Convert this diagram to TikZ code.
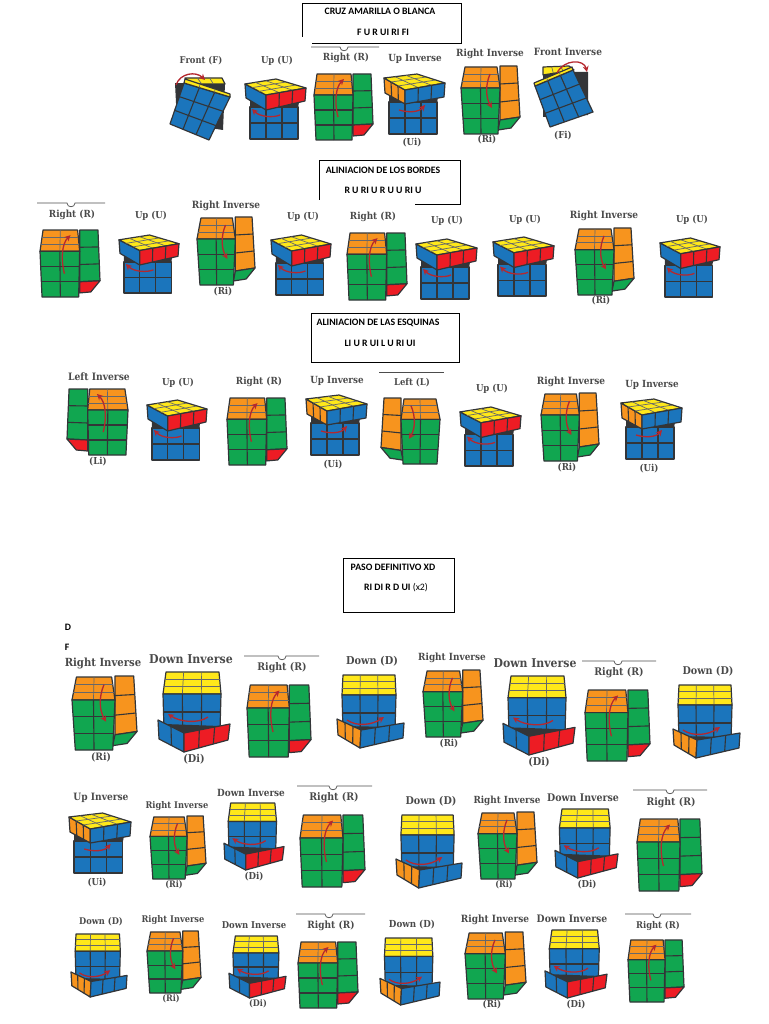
\documentclass[tikz,border=0pt]{standalone}
\usepackage{fontspec}
\usepackage{xcolor}
\usepackage{tikz}
\usetikzlibrary{calc,arrows.meta}
\newfontfamily\tagfont[FakeStretch=0.9]{DejaVu Serif}
\newfontfamily\boxfont{Carlito}
\definecolor{cyellow}{HTML}{FFE81A}
\definecolor{cblue}{HTML}{1B75BC}
\definecolor{cgreen}{HTML}{11A650}
\definecolor{corange}{HTML}{F7941E}
\definecolor{cred}{HTML}{ED1C24}
\definecolor{cdark}{HTML}{333538}
\definecolor{ctwist}{HTML}{B5282E}
\definecolor{ctag}{HTML}{4A4A4A}

% one face of the cube: colour, four corners, columns, rows
\newcommand{\facegrid}[7]{
	\filldraw[facet, fill=#1] #2 -- #3 -- #4 -- #5 -- cycle;
	\foreach \i in {1,...,#6}{\ifnum\i<#6 \draw[cell] ($#2!\i/#6!#3$) -- ($#5!\i/#6!#4$);\fi}
	\foreach \j in {1,...,#7}{\ifnum\j<#7 \draw[cell] ($#2!\j/#7!#5$) -- ($#3!\j/#7!#4$);\fi}
}
% same, finer lines for the top faces
\newcommand{\topgrid}[7]{
	\begin{scope}[cell/.style = {draw=cdark!75, line width=0.7pt}]
		\facegrid{#1}{#2}{#3}{#4}{#5}{#6}{#7}
	\end{scope}
}
% size each pic was drawn at
\def\wrightturn{59}    \def\hrightturn{67}
\def\wrightinverse{59} \def\hrightinverse{68}
\def\wupturn{61}       \def\hupturn{61}
\def\wupinverse{61}    \def\hupinverse{61}
\def\wdownturn{67}     \def\hdownturn{73}
\def\wdowninverse{72}  \def\hdowninverse{80}
\def\wfrontturn{60}    \def\hfrontturn{63}
\def\wfrontinverse{60} \def\hfrontinverse{62}
\newcommand{\turn}[5]{\pic[xscale=#4/\csname w#1\endcsname, yscale=#5/\csname h#1\endcsname] at (#2,#3) {#1};}
\newcommand{\flipturn}[5]{\pic[xscale=-#4/\csname w#1\endcsname, yscale=#5/\csname h#1\endcsname] at (#2+#4,#3) {#1};}
\newcommand{\notchline}[4]{\draw[topline] (#1,#4) -- (#3-4,#4) .. controls (#3-4,#4+5) and (#3+4,#4+5) .. (#3+4,#4) -- (#2,#4);}

\tikzset{
	facet/.style = {draw=cdark, line width=1.2pt, line join=round},
	cell/.style = {draw=cdark, line width=1.1pt},
	twist/.style = {draw=ctwist, line width=1.3pt, -{Stealth[length=6pt, width=6pt]}},
	topline/.style = {draw=black!70, line width=0.7pt},
	tag/.style = {text=ctag, inner sep=0pt, font={\tagfont\bfseries\fontsize{#1}{#1}\selectfont}},
	boxline/.style = {draw=black, line width=0.9pt},
	boxtext/.style = {inner sep=0pt, font={\boxfont\bfseries\fontsize{9.8}{9.8}\selectfont}},
	rightturn/.pic = {
		\facegrid{cgreen}{(39,1)}{(57,1)}{(59,51)}{(39,52)}{1}{3}
		\facegrid{cred}{(39,52)}{(59,51)}{(50,62)}{(39,63)}{1}{1}
		\topgrid{corange}{(3,1)}{(37,1)}{(39,22)}{(0,22)}{2}{3}
		\facegrid{cgreen}{(0,22)}{(39,22)}{(38,67)}{(2,67)}{2}{3}
		\draw[twist] (24,44) .. controls (20,28) and (22,14) .. (30,6);
	},
	rightinverse/.pic = {
		\facegrid{corange}{(39,0)}{(56,0)}{(59,51)}{(39,54)}{1}{3}
		\facegrid{cgreen}{(39,54)}{(59,51)}{(50,62)}{(37,64)}{1}{1}
		\topgrid{corange}{(4,1)}{(36,1)}{(39,22)}{(0,22)}{2}{3}
		\facegrid{cgreen}{(0,22)}{(39,22)}{(37,68)}{(3,68)}{2}{3}
		\draw[twist] (29,8) .. controls (24,20) and (25,32) .. (31,42);
	},
	upturn/.pic = {
		\fill[cdark] (5,20) -- (21,30) -- (54,23) -- (53,29) -- (5,29) -- cycle;
		\facegrid{cblue}{(5,28)}{(53,28)}{(53,60)}{(5,60)}{3}{2}
		\facegrid{cblue}{(0,5)}{(21,16)}{(21,31)}{(1,19)}{1}{1}
		\topgrid{cyellow}{(0,5)}{(31,0)}{(61,9)}{(21,16)}{3}{3}
		\facegrid{cred}{(21,16)}{(61,9)}{(60,22)}{(21,31)}{3}{1}
		\draw[twist] (35,36) .. controls (28,39) and (15,38) .. (7,30);
	},
	upinverse/.pic = {
		\fill[cdark] (5,20) -- (21,30) -- (54,23) -- (53,29) -- (5,29) -- cycle;
		\facegrid{cblue}{(5,28)}{(53,28)}{(53,60)}{(5,60)}{3}{2}
		\facegrid{corange}{(0,4)}{(21,16)}{(21,30)}{(1,19)}{3}{1}
		\topgrid{cyellow}{(0,4)}{(33,0)}{(61,9)}{(21,16)}{3}{3}
		\facegrid{cblue}{(21,16)}{(61,9)}{(60,23)}{(21,30)}{3}{1}
		\draw[twist] (15,36) .. controls (25,39) and (35,38) .. (41,31);
	},
	downturn/.pic = {
		\topgrid{cyellow}{(6,0)}{(58,0)}{(59,20)}{(5,20)}{3}{3}
		\facegrid{cblue}{(5,20)}{(59,20)}{(58,56)}{(6,56)}{3}{2}
		\fill[cdark] (0,44) -- (6,47) -- (6,51) -- (58,52) -- (67,48) -- (24,55) -- cycle;
		\facegrid{corange}{(0,44)}{(24,55)}{(23,73)}{(1,60)}{3}{1}
		\facegrid{cblue}{(24,55)}{(67,48)}{(66,63)}{(23,73)}{3}{1}
		\draw[twist] (10,45) .. controls (20,52) and (35,50) .. (47,42);
	},
	downinverse/.pic = {
		\topgrid{cyellow}{(8,0)}{(61,0)}{(63,22)}{(5,22)}{3}{3}
		\facegrid{cblue}{(5,22)}{(63,22)}{(62,58)}{(6,58)}{3}{2}
		\fill[cdark] (0,48) -- (7,52) -- (62,54) -- (72,52) -- (26,61) -- cycle;
		\facegrid{cblue}{(0,48)}{(26,61)}{(26,80)}{(1,67)}{2}{1}
		\facegrid{cred}{(26,61)}{(72,52)}{(70,68)}{(26,80)}{3}{1}
		\draw[twist] (50,45) .. controls (40,52) and (22,50) .. (10,42);
	},
	frontturn/.pic = {
		\fill[cdark] (5,6) -- (55,7) -- (53,53) -- (7,46) -- cycle;
		\topgrid{cyellow}{(15,1)}{(52,1)}{(55,7)}{(20,7)}{3}{1}
		\facegrid{cblue}{(14,6)}{(60,20)}{(39,63)}{(0,47)}{3}{3}
		\topgrid{cyellow}{(15,2)}{(60,17)}{(60,20)}{(14,6)}{3}{1}
		\draw[twist] (6,8) .. controls (10,-4) and (26,-6) .. (35,3);
	},
	frontinverse/.pic = {
		\fill[cdark] (9,7) -- (54,7) -- (54,50) -- (9,52) -- cycle;
		\topgrid{cyellow}{(9,2)}{(35,1)}{(40,5)}{(9,10)}{3}{1}
		\facegrid{cblue}{(1,21)}{(39,5)}{(59,47)}{(16,62)}{3}{3}
		\topgrid{cyellow}{(0,18)}{(38,2)}{(39,5)}{(1,21)}{3}{1}
		\draw[twist] (23,8) .. controls (30,-6) and (50,-6) .. (53,7);
	},
}

\begin{document}
\begin{tikzpicture}[x=1pt, y=-1pt]
	\useasboundingbox (0,0) rectangle (768,1024);
	% boxes
	\draw[boxline] (302,37) -- (302,3) -- (461,3) -- (461,43) -- (312,43);
	\draw[boxline] (319,200) -- (319,160) -- (460,160) -- (460,204) -- (415,204);
	\draw[boxline] (311,313) rectangle (459,362);
	\draw[boxline] (343,558) rectangle (454,612);
	\node [boxtext] (b0) at (380,11) {CRUZ AMARILLA O BLANCA};
	\node [boxtext] (b1) at (383,32) {F U R UI RI FI};
	\node [boxtext] (b2) at (383,170) {ALINIACION DE LOS BORDES};
	\node [boxtext] (b3) at (383,190) {R U RI U R U U RI U};
	\node [boxtext] (b4) at (378,323) {ALINIACION DE LAS ESQUINAS};
	\node [boxtext] (b5) at (380,343) {LI U R UI L U RI UI};
	\node [boxtext] (b6) at (393,567) {PASO DEFINITIVO XD};
	\node [boxtext] (b7) at (396,588) {RI DI R D UI {\mdseries (x2)}};
	\node [boxtext] (b8) at (68,627) {D};
	\node [boxtext] (b9) at (67,647) {F};
	% first row
	\notchline{311}{379}{344}{47}
	\turn{frontturn}{170}{77}{60}{63}
	\turn{upturn}{245}{79}{61}{61}
	\turn{rightturn}{314}{73}{59}{67}
	\turn{upinverse}{384}{74}{61}{61}
	\turn{rightinverse}{461}{66}{59}{68}
	\turn{frontinverse}{534}{65}{60}{62}
	\node [tag=9.3] (a0) at (201,61) {Front (F)};
	\node [tag=9.5] (a1) at (277,61) {Up (U)};
	\node [tag=9.8] (a2) at (346,58) {Right (R)};
	\node [tag=9.8] (a3) at (415,59) {Up Inverse};
	\node [tag=9.9] (a4) at (490,54) {Right Inverse};
	\node [tag=10] (a5) at (568,52) {Front Inverse};
	\node [tag=9.6] (a6) at (412,143) {(Ui)};
	\node [tag=9.6] (a7) at (487,140) {(Ri)};
	\node [tag=9.6] (a8) at (563,136) {(Fi)};
	% second row
	\notchline{37}{105}{71}{203}
	\turn{rightturn}{40}{229}{60}{68}
	\turn{upturn}{119}{235}{60}{59}
	\turn{rightinverse}{197}{217}{58}{68}
	\turn{upturn}{271}{235}{60}{61}
	\turn{rightturn}{347}{232}{60}{68}
	\turn{upturn}{416}{239}{61}{61}
	\turn{upturn}{493}{237}{61}{60}
	\turn{rightinverse}{575}{228}{59}{67}
	\turn{upturn}{660}{238}{60}{60}
	\node [tag=9.8] (c0) at (72,215) {Right (R)};
	\node [tag=9.5] (c1) at (151,216) {Up (U)};
	\node [tag=10] (c2) at (226,206) {Right Inverse};
	\node [tag=9.5] (c3) at (303,217) {Up (U)};
	\node [tag=9.8] (c4) at (373,217) {Right (R)};
	\node [tag=9.5] (c5) at (447,221) {Up (U)};
	\node [tag=9.5] (c6) at (525,220) {Up (U)};
	\node [tag=10] (c7) at (604,216) {Right Inverse};
	\node [tag=9.5] (c8) at (692,220) {Up (U)};
	\node [tag=9.6] (c9) at (223,292) {(Ri)};
	\node [tag=9.6] (c10) at (601,301) {(Ri)};
	% third row
	\draw[topline] (379,372) -- (444,372);
	\flipturn{rightturn}{67}{388}{61}{67}
	\turn{upturn}{147}{400}{60}{61}
	\turn{rightturn}{227}{397}{60}{68}
	\turn{upinverse}{306}{395}{61}{61}
	\flipturn{rightinverse}{381}{398}{59}{66}
	\turn{upturn}{460}{407}{61}{60}
	\turn{rightinverse}{541}{393}{58}{68}
	\turn{upinverse}{621}{399}{61}{61}
	\node [tag=10.2] (d0) at (99,377) {Left Inverse};
	\node [tag=9.5] (d1) at (178,383) {Up (U)};
	\node [tag=9.8] (d2) at (259,382) {Right (R)};
	\node [tag=9.8] (d3) at (337,381) {Up Inverse};
	\node [tag=9.4] (d4) at (412,383) {Left (L)};
	\node [tag=9.5] (d5) at (492,389) {Up (U)};
	\node [tag=10] (d6) at (571,382) {Right Inverse};
	\node [tag=9.8] (d7) at (652,385) {Up Inverse};
	\node [tag=9.6] (d8) at (98,462) {(Li)};
	\node [tag=9.6] (d9) at (333,465) {(Ui)};
	\node [tag=9.6] (d10) at (567,468) {(Ri)};
	\node [tag=9.6] (d11) at (649,469) {(Ui)};
	% fourth row
	\notchline{244}{319}{282}{656}
	\notchline{582}{656}{618}{661}
	\turn{rightinverse}{72}{676}{65}{74}
	\turn{downinverse}{158}{672}{72}{80}
	\turn{rightturn}{247}{684}{64}{73}
	\turn{downturn}{337}{675}{67}{73}
	\turn{rightinverse}{423}{670}{60}{67}
	\turn{downinverse}{503}{676}{72}{79}
	\turn{rightturn}{585}{689}{65}{72}
	\turn{downturn}{673}{685}{67}{73}
	\node [tag=11.2] (e0) at (103,663) {Right Inverse};
	\node [tag=12.2] (e1) at (191,659) {Down Inverse};
	\node [tag=10.5] (e2) at (282,668) {Right (R)};
	\node [tag=10.9] (e3) at (372,661) {Down (D)};
	\node [tag=9.9] (e4) at (452,658) {Right Inverse};
	\node [tag=12.1] (e5) at (535,663) {Down Inverse};
	\node [tag=10.5] (e6) at (619,673) {Right (R)};
	\node [tag=10.7] (e7) at (708,671) {Down (D)};
	\node [tag=10.2] (e8) at (101,757) {(Ri)};
	\node [tag=10.8] (e9) at (194,759) {(Di)};
	\node [tag=9.6] (e10) at (449,744) {(Ri)};
	\node [tag=10.8] (e11) at (539,762) {(Di)};
	% fifth row
	\notchline{297}{372}{333}{786}
	\notchline{633}{707}{670}{790}
	\turn{upinverse}{69}{813}{62}{61}
	\turn{rightinverse}{150}{816}{56}{63}
	\turn{downinverse}{224}{803}{60}{67}
	\turn{rightturn}{300}{814}{65}{73}
	\turn{downturn}{396}{815}{66}{73}
	\turn{rightinverse}{478}{812}{59}{67}
	\turn{downinverse}{555}{809}{63}{69}
	\turn{rightturn}{637}{818}{65}{73}
	\node [tag=10.1] (f0) at (101,798) {Up Inverse};
	\node [tag=9.2] (f1) at (177,806) {Right Inverse};
	\node [tag=9.9] (f2) at (251,793) {Down Inverse};
	\node [tag=10.5] (f3) at (334,798) {Right (R)};
	\node [tag=10.7] (f4) at (431,801) {Down (D)};
	\node [tag=9.8] (f5) at (507,801) {Right Inverse};
	\node [tag=10.5] (f6) at (583,798) {Down Inverse};
	\node [tag=10.4] (f7) at (671,803) {Right (R)};
	\node [tag=9.6] (f8) at (97,883) {(Ui)};
	\node [tag=9] (f9) at (174,885) {(Ri)};
	\node [tag=9.6] (f10) at (254,877) {(Di)};
	\node [tag=9] (f11) at (504,885) {(Ri)};
	\node [tag=9.6] (f12) at (587,885) {(Di)};
	% last row
	\notchline{296}{365}{329}{914}
	\notchline{625}{691}{657}{914}
	\turn{downturn}{71}{934}{56}{63}
	\turn{rightinverse}{147}{931}{54}{62}
	\turn{downinverse}{229}{936}{57}{62}
	\turn{rightturn}{298}{941}{60}{67}
	\turn{downturn}{380}{938}{60}{67}
	\turn{rightinverse}{465}{932}{61}{67}
	\turn{downinverse}{545}{930}{62}{68}
	\turn{rightturn}{628}{939}{56}{63}
	\node [tag=9.2] (g0) at (101,922) {Down (D)};
	\node [tag=9.2] (g1) at (173,920) {Right Inverse};
	\node [tag=9.4] (g2) at (254,925) {Down Inverse};
	\node [tag=10] (g3) at (331,926) {Right (R)};
	\node [tag=9.7] (g4) at (412,925) {Down (D)};
	\node [tag=10] (g5) at (495,920) {Right Inverse};
	\node [tag=10.3] (g6) at (572,919) {Down Inverse};
	\node [tag=9.3] (g7) at (658,926) {Right (R)};
	\node [tag=9] (g8) at (171,999) {(Ri)};
	\node [tag=9] (g9) at (258,1004) {(Di)};
	\node [tag=9.6] (g10) at (492,1005) {(Ri)};
	\node [tag=9.6] (g11) at (576,1005) {(Di)};
\end{tikzpicture}
\end{document}
